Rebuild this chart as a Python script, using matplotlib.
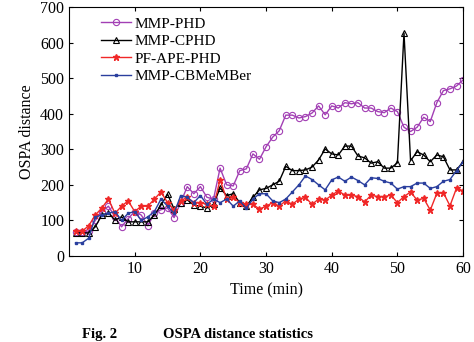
import numpy as np
import matplotlib
matplotlib.use("Agg")
import matplotlib.pyplot as plt

plt.rcParams['font.family'] = ['Liberation Serif', 'DejaVu Serif']

t = np.arange(1, 61)

mmp_phd = [68, 68, 70, 100, 125, 140, 110, 82, 105, 125,
           115, 85, 120, 130, 135, 108, 150, 195, 175, 195,
           165, 160, 247, 200, 197, 240, 245, 287, 272, 307,
           334, 352, 396, 396, 388, 392, 402, 422, 397, 422,
           416, 431, 428, 431, 416, 416, 406, 403, 416, 406,
           362, 350, 362, 390, 378, 431, 465, 470, 478, 495]

mmp_cphd = [65, 65, 65, 82, 115, 121, 101, 110, 96, 96,
            96, 96, 115, 143, 174, 132, 149, 158, 143, 140,
            135, 145, 191, 170, 175, 150, 140, 165, 186, 190,
            200, 210, 252, 240, 240, 242, 250, 270, 301, 287,
            284, 309, 309, 281, 276, 261, 265, 247, 247, 262,
            627, 268, 293, 284, 265, 284, 279, 242, 242, 265]

pf_ape_phd = [70, 70, 85, 115, 135, 160, 120, 140, 155, 125,
              140, 140, 160, 180, 150, 130, 155, 165, 150, 150,
              145, 140, 214, 160, 165, 150, 145, 145, 132, 140,
              150, 140, 155, 145, 160, 165, 145, 160, 157, 171,
              183, 171, 171, 167, 152, 171, 167, 167, 171, 150,
              167, 180, 157, 162, 129, 176, 178, 141, 191, 183]

mmp_cbmember = [37, 37, 50, 110, 115, 120, 125, 100, 120, 125,
                100, 110, 125, 160, 140, 120, 170, 165, 150, 170,
                145, 160, 150, 160, 140, 155, 134, 160, 175, 175,
                155, 150, 160, 180, 200, 225, 215, 200, 186, 214,
                222, 210, 222, 212, 200, 220, 218, 210, 205, 188,
                195, 195, 205, 205, 190, 195, 210, 215, 240, 265]

fig, ax = plt.subplots(figsize=(4.74, 3.42), dpi=100)
fig.subplots_adjust(left=0.1456, right=0.977, top=0.9795, bottom=0.2515)

ax.plot(t, mmp_phd, color='#a23fb4', lw=1, marker='o', ms=4.5,
        mfc='none', mew=0.8, label='MMP-PHD')
ax.plot(t, mmp_cphd, color='black', lw=1, marker='^', ms=4.8,
        mfc='none', mew=0.8, label='MMP-CPHD')
ax.plot(t, pf_ape_phd, color='#f02828', lw=1, marker='*', ms=5,
        label='PF-APE-PHD')
ax.plot(t, mmp_cbmember, color='#2a3f9e', lw=1, marker='s', ms=1.8,
        label='MMP-CBMeMBer')

ax.set_xlim(0, 60)
ax.set_ylim(0, 700)
ax.set_xticks(np.arange(10, 61, 10))
ax.set_yticks(np.arange(0, 701, 100))
ax.tick_params(direction='in', top=True, right=True, labelsize=11.5, length=3)
ax.set_xlabel('Time (min)', fontsize=11.5)
ax.set_ylabel('OSPA distance', fontsize=11.5)

ax.legend(loc='upper left', bbox_to_anchor=(0.065, 0.985), frameon=False,
          fontsize=11, handlelength=2.0, handletextpad=0.2,
          labelspacing=0.25, borderaxespad=0)

fig.text(0.173, 0.004, 'Fig. 2', fontsize=10.5, fontweight='bold', va='bottom')
fig.text(0.344, 0.004, 'OSPA distance statistics', fontsize=10.5,
         fontweight='bold', va='bottom')

fig.savefig('out.png', dpi=100)
